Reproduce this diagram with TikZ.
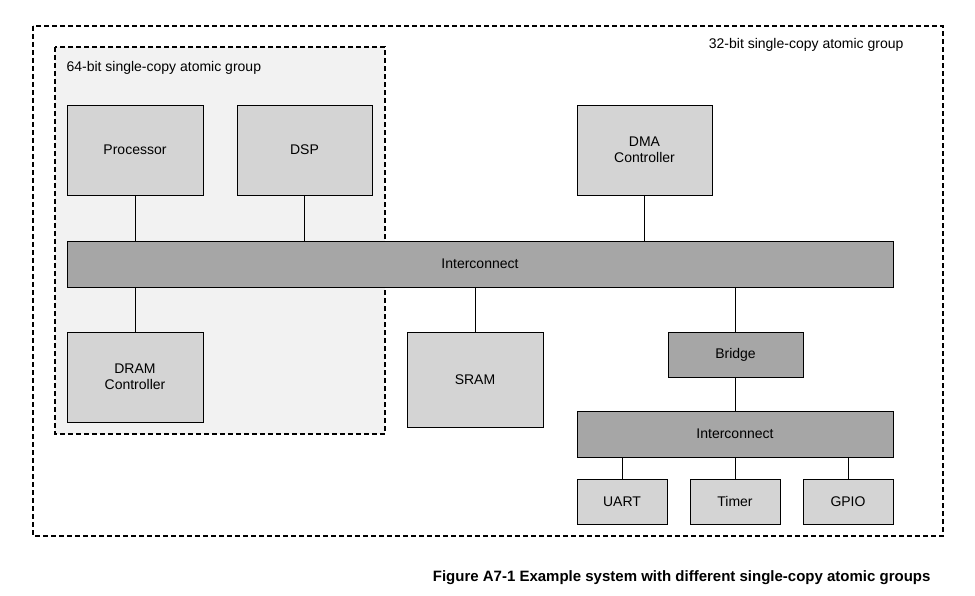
\documentclass[tikz,border=0pt]{standalone}
\usepackage{fontspec}
\setmainfont{Liberation Sans}
\begin{document}
\begin{tikzpicture}[x=1pt,y=-1pt,
  box/.style={draw=black,fill=black!17,line width=0.8pt},
  dark/.style={draw=black,fill=black!35,line width=0.8pt},
  grp/.style={draw=black,dashed,line width=1.4pt,dash pattern=on 5pt off 3pt},
  lbl/.style={font=\fontsize{14}{16}\selectfont,align=center},
  ln/.style={line width=0.8pt}]
\useasboundingbox (0,0) rectangle (975,596);
\draw[grp] (33,26) rectangle (943,536);
\draw[grp,fill=black!5] (55,47) rectangle (385,434);
\node[lbl,anchor=east] (l32) at (907,45) {32-bit single-copy atomic group};
\node[lbl,anchor=west] (l64) at (63,68) {64-bit single-copy atomic group};
\node[box,lbl,minimum width=136,minimum height=90] (proc) at (135,150) {Processor};
\node[box,lbl,minimum width=135,minimum height=90] (dsp) at (304.5,150) {DSP};
\node[box,lbl,minimum width=135,minimum height=90] (dma) at (644.5,150) {DMA\\Controller};
\node[dark,lbl,minimum width=826,minimum height=46] (ic) at (480,264) {Interconnect};
\node[box,lbl,minimum width=136,minimum height=90] (dram) at (135,377) {DRAM\\Controller};
\node[box,lbl,minimum width=136,minimum height=95] (sram) at (475,379.5) {SRAM};
\node[dark,lbl,minimum width=135,minimum height=45] (br) at (735.5,354.5) {Bridge};
\node[dark,lbl,minimum width=316,minimum height=46] (ic2) at (735,434) {Interconnect};
\node[box,lbl,minimum width=90,minimum height=45] (uart) at (622,501.5) {UART};
\node[box,lbl,minimum width=90,minimum height=45] (tim) at (735,501.5) {Timer};
\node[box,lbl,minimum width=90,minimum height=45] (gpio) at (848,501.5) {GPIO};
\draw[ln] (proc.south) -- (proc.south |- ic.north);
\draw[ln] (dsp.south) -- (dsp.south |- ic.north);
\draw[ln] (dma.south) -- (dma.south |- ic.north);
\draw[ln] (dram.north) -- (dram.north |- ic.south);
\draw[ln] (sram.north) -- (sram.north |- ic.south);
\draw[ln] (br.north) -- (br.north |- ic.south);
\draw[ln] (br.south) -- (br.south |- ic2.north);
\draw[ln] (uart.north) -- (uart.north |- ic2.south);
\draw[ln] (tim.north) -- (tim.north |- ic2.south);
\draw[ln] (gpio.north) -- (gpio.north |- ic2.south);
\node[anchor=east,font=\fontsize{15}{17}\selectfont\bfseries] (cap) at (934,578) {Figure A7-1 Example system with different single-copy atomic groups};
\end{tikzpicture}
\end{document}
